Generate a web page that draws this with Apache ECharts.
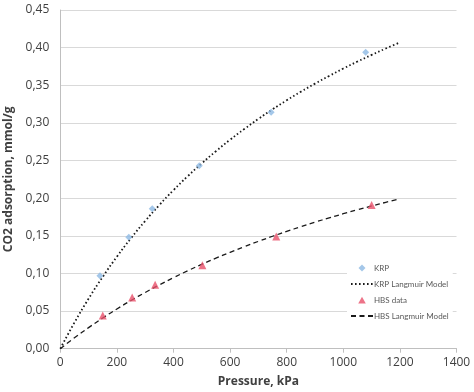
<!DOCTYPE html>
<html>
<head>
<meta charset="utf-8">
<script src="https://cdn.jsdelivr.net/npm/echarts@6/dist/echarts.min.js"></script>
<style>html,body{margin:0;padding:0;background:#fff}#c{width:474px;height:392px}</style>
</head>
<body>
<div id="c"></div>
<script>
// Measured data
const krpPressure = [140, 242, 325, 491, 745, 1079];
const krpUptake   = [0.097, 0.148, 0.186, 0.243, 0.314, 0.394];
const hbsPressure = [150, 254, 335, 502, 763, 1100];
const hbsUptake   = [0.044, 0.068, 0.085, 0.111, 0.149, 0.191];
// Model curves
const modelPressure = [0,50,100,150,200,250,300,350,400,450,500,550,600,650,700,750,800,850,900,950,1000,1050,1100,1150,1200];
const krpModel = [0,0.0347,0.0665,0.0955,0.1222,0.1469,0.1697,0.1909,0.2107,0.2291,0.2463,0.2624,0.2776,0.2918,0.3053,0.3180,0.3300,0.3414,0.3522,0.3624,0.3722,0.3815,0.3903,0.3988,0.4069];
const hbsModel = [0,0.0145,0.0280,0.0408,0.0528,0.0641,0.0747,0.0848,0.0944,0.1035,0.1121,0.1203,0.1281,0.1355,0.1426,0.1494,0.1559,0.1621,0.1681,0.1738,0.1793,0.1845,0.1896,0.1945,0.1992];
const seriesNames = ['KRP', 'KRP Langmuir Model', 'HBS data', 'HBS Langmuir Model'];

const zip = (xs, ys) => xs.map((x, i) => [x, ys[i]]);
const FONT = 'Open Sans';
// legend marker icons padded to the 22x8 legend slot so they keep their shape
const diamondIcon = 'path://M0,0M22,8M11,0.5L14.5,4L11,7.5L7.5,4Z';
const triangleIcon = 'path://M0,0M22,8M11,0.8L14.8,7.6L7.2,7.6Z';

const chart = echarts.init(document.getElementById('c'), null, {renderer: 'canvas'});
chart.setOption({
  animation: false,
  backgroundColor: '#ffffff',
  grid: {left: 60.3, right: 17.5, top: 10, bottom: 43.3, containLabel: false, outerBoundsMode: 'none'},
  xAxis: {
    type: 'value', min: 0, max: 1400, interval: 200,
    name: 'Pressure, kPa', nameLocation: 'middle', nameGap: 27,
    nameTextStyle: {fontFamily: FONT, fontSize: 12, fontWeight: 'bold', color: '#404040'},
    axisLine: {show: true, lineStyle: {color: '#bfbfbf', width: 1}},
    axisTick: {show: true, length: 4, lineStyle: {color: '#bfbfbf'}},
    axisLabel: {fontFamily: FONT, fontSize: 12, color: '#404040', margin: 8,
      formatter: v => String(v)},
    splitLine: {show: false}
  },
  yAxis: {
    type: 'value', min: 0, max: 0.45, interval: 0.05,
    name: 'CO2 adsorption, mmol/g', nameLocation: 'middle', nameGap: 41,
    nameTextStyle: {fontFamily: FONT, fontSize: 12, fontWeight: 'bold', color: '#404040'},
    axisLine: {show: true, lineStyle: {color: '#bfbfbf', width: 1}},
    axisTick: {show: false},
    axisLabel: {fontFamily: FONT, fontSize: 12, color: '#404040', margin: 11,
      formatter: v => v.toFixed(2).replace('.', ',')},
    splitLine: {show: true, lineStyle: {color: '#d9d9d9', width: 1}}
  },
  legend: {
    orient: 'vertical', left: 347, top: 262,
    itemWidth: 22, itemHeight: 8, itemGap: 8,
    padding: [2, 4, 4, 3],
    backgroundColor: '#ffffff',
    textStyle: {fontFamily: 'Lato', fontSize: 8, color: '#595959', padding: [0, 0, 0, -4]},
    data: [
      {name: seriesNames[0], icon: diamondIcon, itemStyle: {color: '#8db9e4'}},
      {name: seriesNames[1], itemStyle: {opacity: 0}},
      {name: seriesNames[2], icon: triangleIcon, itemStyle: {color: '#e8506a'}},
      {name: seriesNames[3], itemStyle: {opacity: 0}}
    ]
  },
  series: [
    {
      name: seriesNames[0], type: 'scatter', symbol: 'diamond', symbolSize: 7,
      itemStyle: {color: '#8db9e4'},
      data: zip(krpPressure, krpUptake), z: 3
    },
    {
      name: seriesNames[1], type: 'line', showSymbol: false, symbol: 'none', smooth: true,
      lineStyle: {color: '#1a1a1a', width: 1.8, type: [1.6, 2.4]},
      itemStyle: {color: '#1a1a1a'},
      data: zip(modelPressure, krpModel), z: 2
    },
    {
      name: seriesNames[2], type: 'scatter', symbol: 'triangle', symbolSize: 8,
      itemStyle: {color: '#e8506a'},
      data: zip(hbsPressure, hbsUptake), z: 3
    },
    {
      name: seriesNames[3], type: 'line', showSymbol: false, symbol: 'none', smooth: true,
      lineStyle: {color: '#1a1a1a', width: 1.3, type: [5, 3.5]},
      itemStyle: {color: '#1a1a1a'},
      data: zip(modelPressure, hbsModel), z: 2
    }
  ]
});
</script>
</body>
</html>
